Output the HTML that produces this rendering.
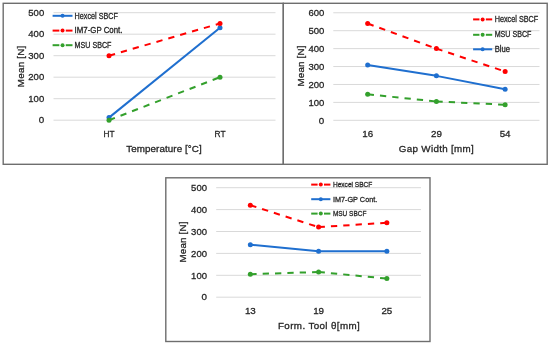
<!DOCTYPE html>
<html><head><meta charset="utf-8"><style>
html,body{margin:0;padding:0;background:#fff;width:550px;height:345px;overflow:hidden}
svg{display:block}
text{font-family:'Liberation Sans', Arial, sans-serif;fill:#262626;stroke:#262626;stroke-width:0.3px}
</style></head><body>
<svg width="550" height="345" viewBox="0 0 550 345">
<rect width="550" height="345" fill="#fff"/>
<rect x="3.2" y="3.3" width="280.1" height="161.0" fill="none" stroke="#6e6e6e" stroke-width="1.4"/>
<rect x="283.3" y="3.3" width="263.90000000000003" height="161.0" fill="none" stroke="#6e6e6e" stroke-width="1.4"/>
<rect x="165.8" y="177.8" width="264.2" height="163.7" fill="none" stroke="#6e6e6e" stroke-width="1.4"/>
<line x1="53.50" y1="120.20" x2="275.50" y2="120.20" stroke="#d9d9d9" stroke-width="1" />
<text x="44.20" y="123.40" font-size="9.8" text-anchor="end">0</text>
<line x1="53.50" y1="98.70" x2="275.50" y2="98.70" stroke="#d9d9d9" stroke-width="1" />
<text x="44.20" y="101.90" font-size="9.8" text-anchor="end" textLength="15.90" lengthAdjust="spacingAndGlyphs">100</text>
<line x1="53.50" y1="77.20" x2="275.50" y2="77.20" stroke="#d9d9d9" stroke-width="1" />
<text x="44.20" y="80.40" font-size="9.8" text-anchor="end" textLength="15.90" lengthAdjust="spacingAndGlyphs">200</text>
<line x1="53.50" y1="55.70" x2="275.50" y2="55.70" stroke="#d9d9d9" stroke-width="1" />
<text x="44.20" y="58.90" font-size="9.8" text-anchor="end" textLength="15.90" lengthAdjust="spacingAndGlyphs">300</text>
<line x1="53.50" y1="34.20" x2="275.50" y2="34.20" stroke="#d9d9d9" stroke-width="1" />
<text x="44.20" y="37.40" font-size="9.8" text-anchor="end" textLength="15.90" lengthAdjust="spacingAndGlyphs">400</text>
<line x1="53.50" y1="12.70" x2="275.50" y2="12.70" stroke="#d9d9d9" stroke-width="1" />
<text x="44.20" y="15.90" font-size="9.8" text-anchor="end" textLength="15.90" lengthAdjust="spacingAndGlyphs">500</text>
<text x="109.00" y="136.50" font-size="9.8" text-anchor="middle" textLength="11.00" lengthAdjust="spacingAndGlyphs">HT</text>
<text x="220.00" y="136.50" font-size="9.8" text-anchor="middle" textLength="11.00" lengthAdjust="spacingAndGlyphs">RT</text>
<text x="164.00" y="152.20" font-size="9.8" text-anchor="middle" textLength="75.50" lengthAdjust="spacing">Temperature [°C]</text>
<text x="23.90" y="66.40" font-size="9.8" text-anchor="middle" textLength="41.50" lengthAdjust="spacing" transform="rotate(-90 23.90 66.40)">Mean [N]</text>
<polyline points="109.00,117.62 220.00,27.75" fill="none" stroke="#1f6fcf" stroke-width="2.0" stroke-linejoin="round"/>
<circle cx="109.00" cy="117.62" r="2.5" fill="#1f6fcf"/>
<circle cx="220.00" cy="27.75" r="2.5" fill="#1f6fcf"/>
<line x1="109.00" y1="55.70" x2="220.00" y2="23.45" stroke="#ff0000" stroke-width="2.0" stroke-dasharray="6.3 6.05"/>
<circle cx="109.00" cy="55.70" r="2.5" fill="#ff0000"/>
<circle cx="220.00" cy="23.45" r="2.5" fill="#ff0000"/>
<line x1="109.00" y1="120.20" x2="220.00" y2="77.20" stroke="#33a02c" stroke-width="2.0" stroke-dasharray="6.3 6.05"/>
<circle cx="109.00" cy="120.20" r="2.5" fill="#33a02c"/>
<circle cx="220.00" cy="77.20" r="2.5" fill="#33a02c"/>
<line x1="52.60" y1="15.80" x2="72.50" y2="15.80" stroke="#1f6fcf" stroke-width="2.0" />
<circle cx="62.55" cy="15.80" r="2.0" fill="#1f6fcf"/>
<text x="74.60" y="18.60" font-size="8.4" textLength="43.30" lengthAdjust="spacingAndGlyphs">Hexcel SBCF</text>
<line x1="52.60" y1="30.60" x2="59.35" y2="30.60" stroke="#ff0000" stroke-width="2.0" />
<line x1="65.75" y1="30.60" x2="72.50" y2="30.60" stroke="#ff0000" stroke-width="2.0" />
<circle cx="62.55" cy="30.60" r="2.0" fill="#ff0000"/>
<text x="74.60" y="33.30" font-size="8.4" textLength="47.80" lengthAdjust="spacingAndGlyphs">IM7-GP Cont.</text>
<line x1="52.60" y1="45.20" x2="59.35" y2="45.20" stroke="#33a02c" stroke-width="2.0" />
<line x1="65.75" y1="45.20" x2="72.50" y2="45.20" stroke="#33a02c" stroke-width="2.0" />
<circle cx="62.55" cy="45.20" r="2.0" fill="#33a02c"/>
<text x="74.60" y="47.80" font-size="8.4" textLength="36.80" lengthAdjust="spacingAndGlyphs">MSU SBCF</text>
<line x1="333.30" y1="120.30" x2="539.50" y2="120.30" stroke="#d9d9d9" stroke-width="1" />
<text x="324.30" y="123.50" font-size="9.8" text-anchor="end">0</text>
<line x1="333.30" y1="102.38" x2="539.50" y2="102.38" stroke="#d9d9d9" stroke-width="1" />
<text x="324.30" y="105.58" font-size="9.8" text-anchor="end" textLength="15.90" lengthAdjust="spacingAndGlyphs">100</text>
<line x1="333.30" y1="84.46" x2="539.50" y2="84.46" stroke="#d9d9d9" stroke-width="1" />
<text x="324.30" y="87.66" font-size="9.8" text-anchor="end" textLength="15.90" lengthAdjust="spacingAndGlyphs">200</text>
<line x1="333.30" y1="66.54" x2="539.50" y2="66.54" stroke="#d9d9d9" stroke-width="1" />
<text x="324.30" y="69.74" font-size="9.8" text-anchor="end" textLength="15.90" lengthAdjust="spacingAndGlyphs">300</text>
<line x1="333.30" y1="48.62" x2="539.50" y2="48.62" stroke="#d9d9d9" stroke-width="1" />
<text x="324.30" y="51.82" font-size="9.8" text-anchor="end" textLength="15.90" lengthAdjust="spacingAndGlyphs">400</text>
<line x1="333.30" y1="30.70" x2="539.50" y2="30.70" stroke="#d9d9d9" stroke-width="1" />
<text x="324.30" y="33.90" font-size="9.8" text-anchor="end" textLength="15.90" lengthAdjust="spacingAndGlyphs">500</text>
<line x1="333.30" y1="12.78" x2="539.50" y2="12.78" stroke="#d9d9d9" stroke-width="1" />
<text x="324.30" y="15.98" font-size="9.8" text-anchor="end" textLength="15.90" lengthAdjust="spacingAndGlyphs">600</text>
<text x="367.67" y="136.80" font-size="9.8" text-anchor="middle">16</text>
<text x="436.40" y="136.80" font-size="9.8" text-anchor="middle">29</text>
<text x="505.13" y="136.80" font-size="9.8" text-anchor="middle">54</text>
<text x="436.30" y="152.00" font-size="9.8" text-anchor="middle" textLength="75.00" lengthAdjust="spacing">Gap Width [mm]</text>
<text x="303.80" y="66.00" font-size="9.8" text-anchor="middle" textLength="41.00" lengthAdjust="spacing" transform="rotate(-90 303.80 66.00)">Mean [N]</text>
<line x1="367.67" y1="23.53" x2="436.40" y2="48.62" stroke="#ff0000" stroke-width="2.0" stroke-dasharray="6.3 6.05"/>
<line x1="436.40" y1="48.62" x2="505.13" y2="71.56" stroke="#ff0000" stroke-width="2.0" stroke-dasharray="6.3 6.05"/>
<circle cx="367.67" cy="23.53" r="2.5" fill="#ff0000"/>
<circle cx="436.40" cy="48.62" r="2.5" fill="#ff0000"/>
<circle cx="505.13" cy="71.56" r="2.5" fill="#ff0000"/>
<line x1="367.67" y1="94.32" x2="436.40" y2="101.48" stroke="#33a02c" stroke-width="2.0" stroke-dasharray="6.3 6.05"/>
<line x1="436.40" y1="101.48" x2="505.13" y2="104.71" stroke="#33a02c" stroke-width="2.0" stroke-dasharray="6.3 6.05"/>
<circle cx="367.67" cy="94.32" r="2.5" fill="#33a02c"/>
<circle cx="436.40" cy="101.48" r="2.5" fill="#33a02c"/>
<circle cx="505.13" cy="104.71" r="2.5" fill="#33a02c"/>
<polyline points="367.67,65.11 436.40,75.86 505.13,89.30" fill="none" stroke="#1f6fcf" stroke-width="2.0" stroke-linejoin="round"/>
<circle cx="367.67" cy="65.11" r="2.5" fill="#1f6fcf"/>
<circle cx="436.40" cy="75.86" r="2.5" fill="#1f6fcf"/>
<circle cx="505.13" cy="89.30" r="2.5" fill="#1f6fcf"/>
<line x1="473.10" y1="19.40" x2="479.45" y2="19.40" stroke="#ff0000" stroke-width="2.0" />
<line x1="485.85" y1="19.40" x2="492.20" y2="19.40" stroke="#ff0000" stroke-width="2.0" />
<circle cx="482.65" cy="19.40" r="2.0" fill="#ff0000"/>
<text x="494.70" y="22.10" font-size="8.4" textLength="43.60" lengthAdjust="spacingAndGlyphs">Hexcel SBCF</text>
<line x1="473.10" y1="34.80" x2="479.45" y2="34.80" stroke="#33a02c" stroke-width="2.0" />
<line x1="485.85" y1="34.80" x2="492.20" y2="34.80" stroke="#33a02c" stroke-width="2.0" />
<circle cx="482.65" cy="34.80" r="2.0" fill="#33a02c"/>
<text x="494.70" y="37.40" font-size="8.4" textLength="36.70" lengthAdjust="spacingAndGlyphs">MSU SBCF</text>
<line x1="473.10" y1="49.30" x2="492.20" y2="49.30" stroke="#1f6fcf" stroke-width="2.0" />
<circle cx="482.65" cy="49.30" r="2.0" fill="#1f6fcf"/>
<text x="494.70" y="52.40" font-size="8.4" textLength="15.30" lengthAdjust="spacingAndGlyphs">Blue</text>
<line x1="216.20" y1="297.20" x2="421.00" y2="297.20" stroke="#d9d9d9" stroke-width="1" />
<text x="207.00" y="300.40" font-size="9.8" text-anchor="end">0</text>
<line x1="216.20" y1="275.30" x2="421.00" y2="275.30" stroke="#d9d9d9" stroke-width="1" />
<text x="207.00" y="278.50" font-size="9.8" text-anchor="end" textLength="15.90" lengthAdjust="spacingAndGlyphs">100</text>
<line x1="216.20" y1="253.40" x2="421.00" y2="253.40" stroke="#d9d9d9" stroke-width="1" />
<text x="207.00" y="256.60" font-size="9.8" text-anchor="end" textLength="15.90" lengthAdjust="spacingAndGlyphs">200</text>
<line x1="216.20" y1="231.50" x2="421.00" y2="231.50" stroke="#d9d9d9" stroke-width="1" />
<text x="207.00" y="234.70" font-size="9.8" text-anchor="end" textLength="15.90" lengthAdjust="spacingAndGlyphs">300</text>
<line x1="216.20" y1="209.60" x2="421.00" y2="209.60" stroke="#d9d9d9" stroke-width="1" />
<text x="207.00" y="212.80" font-size="9.8" text-anchor="end" textLength="15.90" lengthAdjust="spacingAndGlyphs">400</text>
<line x1="216.20" y1="187.70" x2="421.00" y2="187.70" stroke="#d9d9d9" stroke-width="1" />
<text x="207.00" y="190.90" font-size="9.8" text-anchor="end" textLength="15.90" lengthAdjust="spacingAndGlyphs">500</text>
<text x="250.33" y="314.40" font-size="9.8" text-anchor="middle">13</text>
<text x="318.60" y="314.40" font-size="9.8" text-anchor="middle">19</text>
<text x="386.87" y="314.40" font-size="9.8" text-anchor="middle">25</text>
<text x="318.90" y="329.10" font-size="9.8" text-anchor="middle" textLength="81.80" lengthAdjust="spacing">Form. Tool θ[mm]</text>
<text x="186.40" y="242.00" font-size="9.8" text-anchor="middle" textLength="41.00" lengthAdjust="spacing" transform="rotate(-90 186.40 242.00)">Mean [N]</text>
<line x1="250.33" y1="205.22" x2="318.60" y2="227.12" stroke="#ff0000" stroke-width="2.0" stroke-dasharray="6.3 6.05"/>
<line x1="318.60" y1="227.12" x2="386.87" y2="222.74" stroke="#ff0000" stroke-width="2.0" stroke-dasharray="6.3 6.05"/>
<circle cx="250.33" cy="205.22" r="2.5" fill="#ff0000"/>
<circle cx="318.60" cy="227.12" r="2.5" fill="#ff0000"/>
<circle cx="386.87" cy="222.74" r="2.5" fill="#ff0000"/>
<polyline points="250.33,244.64 318.60,251.21 386.87,251.21" fill="none" stroke="#1f6fcf" stroke-width="2.0" stroke-linejoin="round"/>
<circle cx="250.33" cy="244.64" r="2.5" fill="#1f6fcf"/>
<circle cx="318.60" cy="251.21" r="2.5" fill="#1f6fcf"/>
<circle cx="386.87" cy="251.21" r="2.5" fill="#1f6fcf"/>
<line x1="250.33" y1="274.20" x2="318.60" y2="272.01" stroke="#33a02c" stroke-width="2.0" stroke-dasharray="6.3 6.05"/>
<line x1="318.60" y1="272.01" x2="386.87" y2="278.58" stroke="#33a02c" stroke-width="2.0" stroke-dasharray="6.3 6.05"/>
<circle cx="250.33" cy="274.20" r="2.5" fill="#33a02c"/>
<circle cx="318.60" cy="272.01" r="2.5" fill="#33a02c"/>
<circle cx="386.87" cy="278.58" r="2.5" fill="#33a02c"/>
<line x1="311.20" y1="184.60" x2="317.60" y2="184.60" stroke="#ff0000" stroke-width="2.0" />
<line x1="324.00" y1="184.60" x2="330.40" y2="184.60" stroke="#ff0000" stroke-width="2.0" />
<circle cx="320.80" cy="184.60" r="2.0" fill="#ff0000"/>
<text x="332.90" y="187.10" font-size="8.1" textLength="39.50" lengthAdjust="spacingAndGlyphs">Hexcel SBCF</text>
<line x1="311.20" y1="199.20" x2="330.40" y2="199.20" stroke="#1f6fcf" stroke-width="2.0" />
<circle cx="320.80" cy="199.20" r="2.0" fill="#1f6fcf"/>
<text x="332.90" y="201.80" font-size="8.1" textLength="44.40" lengthAdjust="spacingAndGlyphs">IM7-GP Cont.</text>
<line x1="311.20" y1="213.60" x2="317.60" y2="213.60" stroke="#33a02c" stroke-width="2.0" />
<line x1="324.00" y1="213.60" x2="330.40" y2="213.60" stroke="#33a02c" stroke-width="2.0" />
<circle cx="320.80" cy="213.60" r="2.0" fill="#33a02c"/>
<text x="332.90" y="215.50" font-size="8.1" textLength="33.50" lengthAdjust="spacingAndGlyphs">MSU SBCF</text>
</svg>
</body></html>
